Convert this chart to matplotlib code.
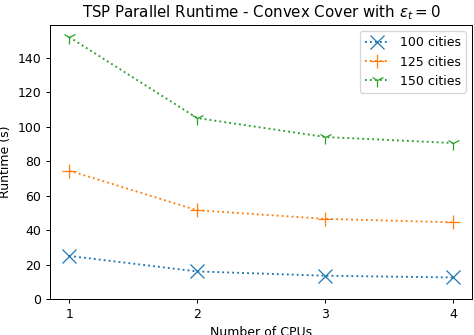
import matplotlib
matplotlib.use("Agg")
import matplotlib.pyplot as plt

cpus = [1, 2, 3, 4]
runtime_100 = [25.0, 16.0, 13.5, 12.5]
runtime_125 = [74.5, 51.5, 46.5, 44.5]
runtime_150 = [152.0, 105.0, 94.0, 90.5]
labels = ["100 cities", "125 cities", "150 cities"]

DPI = 90
fig = plt.figure(figsize=(474/DPI, 335/DPI), dpi=DPI)
ax = fig.add_axes([50/474, 36/335, 422/474, 274/335])

ax.plot(cpus, runtime_100, linestyle=':', marker='x', markersize=11, color='C0', label=labels[0])
ax.plot(cpus, runtime_125, linestyle=':', marker='+', markersize=11, color='C1', label=labels[1])
ax.plot(cpus, runtime_150, linestyle=':', marker='1', markersize=11, color='C2', label=labels[2])

ax.set_ylim(bottom=0)
ax.set_xticks(cpus)
ax.set_xlabel("Number of CPUs")
ax.set_ylabel("Runtime (s)")
ax.set_title(r"TSP Parallel Runtime - Convex Cover with $\varepsilon_t = 0$")
ax.legend(loc='upper right')

fig.savefig("out.png", dpi=DPI)
